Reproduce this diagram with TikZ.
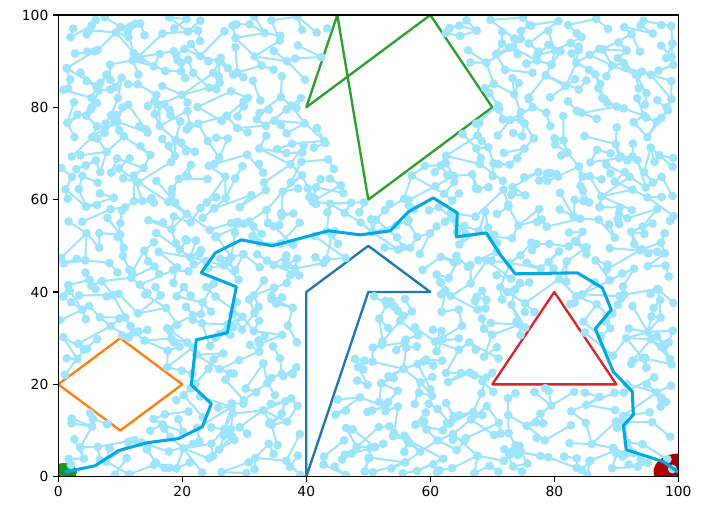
\documentclass[tikz,border=0pt]{standalone}
\usepackage{fontspec}
\setmainfont{DejaVu Sans}
\usetikzlibrary{positioning}

\definecolor{treeblue}{RGB}{158,228,252}
\definecolor{pathblue}{RGB}{0,168,228}
\definecolor{obsblue}{RGB}{31,119,180}
\definecolor{obsorange}{RGB}{255,127,14}
\definecolor{obsgreen}{RGB}{44,160,44}
\definecolor{obsred}{RGB}{214,39,40}
\definecolor{startgreen}{RGB}{24,150,24}
\definecolor{goalred}{RGB}{170,0,0}

\tikzset{
  treeedge/.style={draw=treeblue,line width=1.5pt},
  treedot/.style={fill=treeblue},
  obstacle/.style={line width=1.7pt,line join=round},
  rrtpath/.style={draw=pathblue,line width=2.2pt,line join=round},
  ticklabel/.style={inner sep=0pt,font=\fontsize{10}{12}\selectfont},
}

% \inobs = 1 if (#1,#2) lies in an obstacle (grown by #3)
\newcommand\obstest[3]{%
  \pgfmathtruncatemacro\inobs{%
    ((#1) < 0.3) || ((#1) > 99.7) || ((#2) < 0.3) || ((#2) > 99.7) ||
    (abs((#1)-10)+abs((#2)-20) < 10+#3) ||
    (((#2) > 20-#3) && ((#2) < 40-2*abs((#1)-80)+#3)) ||
    (((#2) > 40-#3) && ((#2) < 50-abs((#1)-50)+#3)) ||
    (((#2) < 40) && ((#1) > 40-#3) && ((#1) < 40+(#2)/4+#3)) ||
    (((#2) > (#1)+10-#3) && ((#2)+2*(#1) < 220+#3) && ((#2) < 4*(#1)-80+#3) && ((#2)+2*(#1) > 160-#3))}}

\begin{document}
\begin{tikzpicture}[x=0.15748cm,y=0.11727cm]
  \useasboundingbox (-9.40,-7.21) rectangle (106.40,103.25);

  \begin{scope}
    \clip (0,0) rectangle (100,100);
    % start and goal
    \fill[startgreen] (1,1) circle [radius=2];
    \fill[goalred] (100,1) circle [radius=4];
    % obstacles
    \draw[obstacle,obsblue] (40,0) -- (40,40) -- (50,50) -- (60,40) -- (50,40) -- cycle;
    \draw[obstacle,obsorange] (0,20) -- (10,30) -- (20,20) -- (10,10) -- cycle;
    \draw[obstacle,obsgreen] (45,100) -- (40,80) -- (60,100) -- (70,80) -- (50,60) -- cycle;
    \draw[obstacle,obsred] (70,20) -- (80,40) -- (90,20) -- cycle;

    % tree nodes
    \pgfmathsetseed{4242}
    \foreach \i in {0,...,31}{
      \foreach \j in {0,...,31}{
        \pgfmathsetmacro\nx{(\i+0.5+0.5*rand)*3.125}
        \pgfmathsetmacro\ny{(\j+0.5+0.5*rand)*3.125}
        \pgfmathsetmacro\nt{0.3*veclen(\nx,\ny)+5*rand}
        \obstest{\nx}{\ny}{0.8}
        \expandafter\xdef\csname tx-\i-\j\endcsname{\nx}
        \expandafter\xdef\csname ty-\i-\j\endcsname{\ny}
        \expandafter\xdef\csname tt-\i-\j\endcsname{\nt}
        \expandafter\xdef\csname tv-\i-\j\endcsname{\inobs}
        \coordinate (v-\i-\j) at (\nx,\ny);
      }
    }
    % tree edges: each node to a random lower neighbour
    \foreach \i in {0,...,31}{
      \foreach \j in {0,...,31}{
        \ifnum\csname tv-\i-\j\endcsname=0
          \xdef\ownt{\csname tt-\i-\j\endcsname}%
          \gdef\bestk{}%
          \xdef\nlow{0}%
          \foreach \di in {-1,0,1}{
            \foreach \dj in {-1,0,1}{
              \edef\ki{\the\numexpr\i+\di\relax}%
              \edef\kj{\the\numexpr\j+\dj\relax}%
              \ifcsname tv-\ki-\kj\endcsname
                \ifnum\csname tv-\ki-\kj\endcsname=0
                  \pgfmathtruncatemacro\islow{\csname tt-\ki-\kj\endcsname<\ownt}%
                  \ifnum\islow=1
                    \xdef\nlow{\the\numexpr\nlow+1\relax}%
                    \pgfmathtruncatemacro\pick{rnd*\nlow<1}%
                    \ifnum\pick=1 \xdef\bestk{\ki-\kj}\fi
                  \fi
                \fi
              \fi
            }
          }
          \ifx\bestk\empty\else
            \pgfmathsetmacro\mx{(\csname tx-\i-\j\endcsname+\csname tx-\bestk\endcsname)/2}
            \pgfmathsetmacro\my{(\csname ty-\i-\j\endcsname+\csname ty-\bestk\endcsname)/2}
            \obstest{\mx}{\my}{0.2}
            \ifnum\inobs=0
              \draw[treeedge] (v-\i-\j) -- (v-\bestk);
            \fi
          \fi
        \fi
      }
    }
    % dots, and a short twig on about half of them
    \foreach \i in {0,...,31}{
      \foreach \j in {0,...,31}{
        \ifnum\csname tv-\i-\j\endcsname=0
          \pgfmathtruncatemacro\twig{rnd<0.5}
          \ifnum\twig=1
            \pgfmathsetmacro\ta{360*rnd}
            \pgfmathsetmacro\tl{9+7*rnd}
            \pgfmathsetmacro\wx{\csname tx-\i-\j\endcsname+\tl*cos(\ta)/6.2}
            \pgfmathsetmacro\wy{\csname ty-\i-\j\endcsname+\tl*sin(\ta)/4.62}
            \obstest{\wx}{\wy}{0.6}
            \ifnum\inobs=0
              \coordinate (w-\i-\j) at (\wx,\wy);
              \draw[treeedge] (v-\i-\j) -- (w-\i-\j);
              \fill[treedot] (w-\i-\j) circle (3.2pt);
            \fi
          \fi
          \fill[treedot] (v-\i-\j) circle (3.2pt);
        \fi
      }
    }

    % path found
    \foreach \px/\py [count=\k] in {1/1, 5.97/2.38, 9.68/5.63, 14.35/7.36,
        19.35/8.23, 23.23/10.82, 24.68/15.8, 21.45/19.91, 22.26/29.65,
        27.26/31.17, 28.71/41.13, 23.06/44.16, 25.32/48.48, 29.52/51.3,
        34.52/50.0, 43.55/53.25, 48.71/52.38, 53.55/53.25, 56.45/57.36,
        60.48/60.39, 64.35/57.14, 64.19/51.95, 69.03/52.81, 71.29/48.05,
        73.71/43.94, 83.71/44.16, 87.74/40.91, 89.19/36.15, 86.61/32.03,
        89.52/22.73, 92.58/18.4, 92.74/13.42, 91.13/11.04, 91.61/5.84,
        97.58/3.25, 100/1}
      \coordinate (p\k) at (\px,\py);
    \draw[rrtpath] (p1) \foreach \k in {2,...,36} { -- (p\k) };
  \end{scope}

  % axes
  \draw[line width=0.8pt] (0,0) rectangle (100,100);
  \foreach \v in {0,20,...,100}{
    \draw[line width=0.8pt] (\v,0) -- ++(0,-3.5pt) coordinate (xt\v);
    \node[ticklabel,below=3.5pt of xt\v] (xl\v) {\v};
    \draw[line width=0.8pt] (0,\v) -- ++(-3.5pt,0) coordinate (yt\v);
    \node[ticklabel,left=3.5pt of yt\v] (yl\v) {\v};
  }
\end{tikzpicture}
\end{document}
